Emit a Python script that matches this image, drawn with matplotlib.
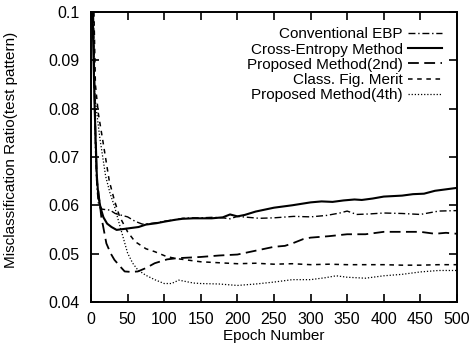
import matplotlib
matplotlib.use("Agg")
import matplotlib.pyplot as plt

plt.rcParams["font.family"] = ["Liberation Sans", "DejaVu Sans"]

# values
ebp_epoch = [3, 6, 8, 10, 15, 20, 26, 33, 40, 50, 60, 70, 80, 90, 100, 115, 125, 140, 150, 165,
             180, 190, 200, 215, 230, 250, 277, 300, 322, 340, 350, 363, 380, 400, 425, 450, 475, 500]
ebp_val = [0.100, 0.072, 0.064, 0.0605, 0.0592, 0.0591, 0.0590, 0.0583, 0.0580, 0.0576, 0.0567,
           0.0561, 0.0562, 0.0564, 0.0567, 0.0570, 0.0573, 0.0574, 0.0574, 0.0575, 0.0574, 0.0572,
           0.0577, 0.0575, 0.0573, 0.0574, 0.0577, 0.0576, 0.0579, 0.0584, 0.0588, 0.0581, 0.0582,
           0.0584, 0.0583, 0.0581, 0.0588, 0.0589]

ce_epoch = [2, 5, 8, 10, 13, 17, 22, 28, 35, 45, 55, 65, 75, 90, 100, 115, 125, 140, 150, 165,
            180, 190, 200, 210, 225, 250, 275, 300, 315, 330, 345, 360, 370, 385, 400, 425, 440,
            455, 470, 485, 500]
ce_val = [0.100, 0.080, 0.066, 0.062, 0.0595, 0.0575, 0.0562, 0.0555, 0.0549, 0.0551, 0.0553,
          0.0555, 0.0560, 0.0563, 0.0566, 0.0570, 0.0572, 0.0573, 0.0573, 0.0573, 0.0575, 0.0581,
          0.0577, 0.0580, 0.0587, 0.0595, 0.0600, 0.0606, 0.0608, 0.0607, 0.0610, 0.0612, 0.0611,
          0.0614, 0.0618, 0.0620, 0.0623, 0.0624, 0.0630, 0.0633, 0.0636]

p2_epoch = [3, 6, 8, 10, 14, 21, 27, 32, 40, 46, 55, 64, 75, 87, 104, 115, 125, 150, 175, 200,
            225, 250, 265, 275, 290, 300, 325, 350, 375, 400, 425, 450, 470, 485, 500]
p2_val = [0.100, 0.075, 0.065, 0.063, 0.0577, 0.0521, 0.0500, 0.0487, 0.0473, 0.0463, 0.0462,
          0.0463, 0.0470, 0.0480, 0.0488, 0.0490, 0.0491, 0.0493, 0.0496, 0.0498, 0.0506, 0.0514,
          0.0516, 0.0521, 0.0530, 0.0533, 0.0536, 0.0540, 0.0540, 0.0545, 0.0545, 0.0545, 0.0541,
          0.0543, 0.0541]

cfm_epoch = [4, 6, 10, 16, 25, 32, 39, 50, 60, 75, 87, 103, 115, 130, 150, 175, 200, 225, 250,
             275, 300, 325, 350, 375, 400, 425, 450, 475, 500]
cfm_val = [0.100, 0.085, 0.079, 0.0735, 0.065, 0.061, 0.0577, 0.0545, 0.0525, 0.0510, 0.0504,
           0.0494, 0.0490, 0.0487, 0.0483, 0.0481, 0.0479, 0.0480, 0.0478, 0.0479, 0.0477, 0.0478,
           0.0477, 0.0477, 0.0477, 0.0476, 0.0476, 0.0477, 0.0477]

p4_epoch = [3, 5, 8, 12, 16, 20, 26, 32, 41, 50, 57, 64, 75, 87, 100, 110, 120, 130, 140, 150,
            175, 200, 225, 250, 275, 300, 320, 335, 350, 375, 400, 425, 450, 475, 500]
p4_val = [0.100, 0.083, 0.079, 0.0740, 0.070, 0.066, 0.0625, 0.0598, 0.0549, 0.0501, 0.0480,
          0.0466, 0.0455, 0.0446, 0.0438, 0.0438, 0.0445, 0.0442, 0.0439, 0.0438, 0.0437, 0.0434,
          0.0437, 0.0441, 0.0446, 0.0446, 0.0450, 0.0454, 0.0451, 0.0449, 0.0454, 0.0457, 0.0462,
          0.0465, 0.0465]

x_ticks = [0, 50, 100, 150, 200, 250, 300, 350, 400, 450, 500]
y_ticks = [0.04, 0.05, 0.06, 0.07, 0.08, 0.09, 0.1]
y_labels = ["0.04", "0.05", "0.06", "0.07", "0.08", "0.09", "0.1"]

fig = plt.figure(figsize=(4.74, 3.45), dpi=100)
ax = fig.add_axes([0.192, 0.125, 0.772, 0.840])

ax.plot(ebp_epoch, ebp_val, color="black", lw=1.0, dashes=(5, 2, 1, 2), label="Conventional EBP")
ax.plot(ce_epoch, ce_val, color="black", lw=1.5, label="Cross-Entropy Method")
ax.plot(p2_epoch, p2_val, color="black", lw=1.3, dashes=(6, 3), label="Proposed Method(2nd)")
ax.plot(cfm_epoch, cfm_val, color="black", lw=1.1, dashes=(3, 3), label="Class. Fig. Merit")
ax.plot(p4_epoch, p4_val, color="black", lw=0.9, dashes=(1, 1.5), label="Proposed Method(4th)")

ax.set_xlim(0, 500)
ax.set_ylim(0.04, 0.1)
ax.set_xticks(x_ticks)
ax.set_yticks(y_ticks)
ax.set_yticklabels(y_labels)
ax.tick_params(direction="in", top=True, right=True, length=6, width=1.2, labelsize=11.5)
ax.tick_params(axis="y", pad=8)
ax.tick_params(axis="x", pad=7)
for s in ax.spines.values():
    s.set_linewidth(1.4)

ax.set_xlabel("Epoch Number", fontsize=11)
ax.set_ylabel("Misclassification Ratio(test pattern)", fontsize=11)
ax.xaxis.set_label_coords(0.5, -0.095)
ax.yaxis.set_label_coords(-0.2, 0.524)

ax.legend(loc="upper right", frameon=False, markerfirst=False, fontsize=11,
          handlelength=2.2, handletextpad=0.35, labelspacing=0.08,
          borderaxespad=0.6)

fig.savefig("out.png", dpi=100)
